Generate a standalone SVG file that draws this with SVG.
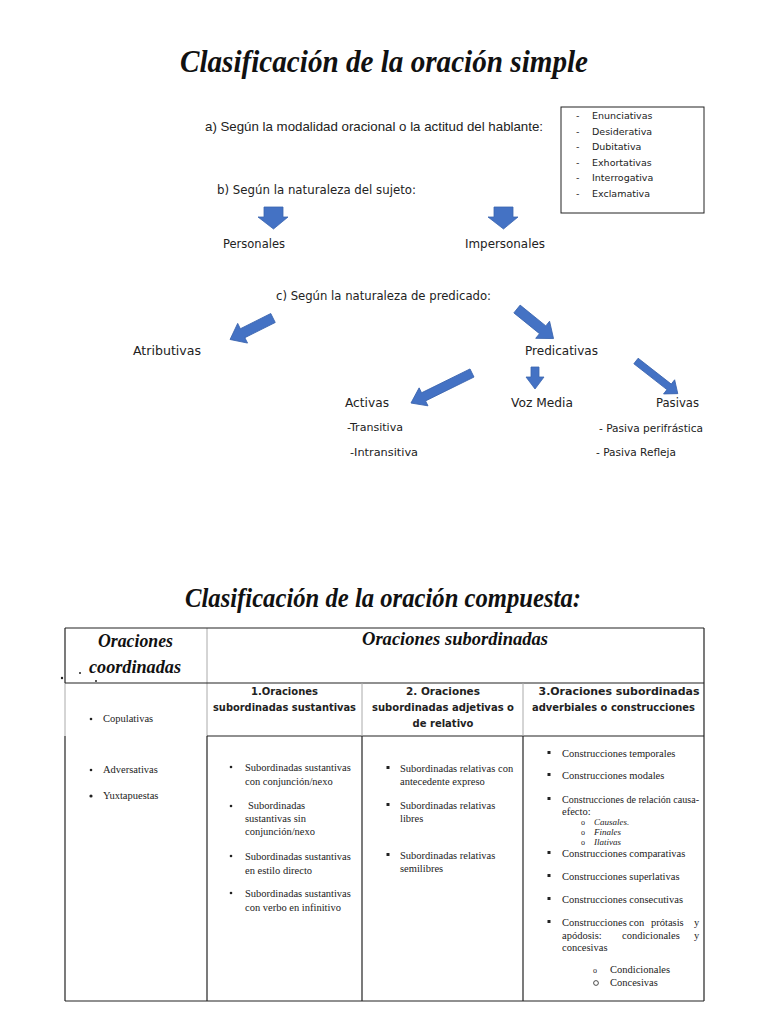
<svg xmlns="http://www.w3.org/2000/svg" width="768" height="1024" viewBox="0 0 768 1024">
<defs>
<style>
.script{font-family:"Liberation Serif","DejaVu Serif",serif;font-weight:bold;font-style:italic;fill:#111}
.sans{font-family:"DejaVu Sans","Liberation Sans",sans-serif;fill:#222;font-size:13px}
.sans2{font-family:"Liberation Sans","Arial",sans-serif;fill:#222;font-size:13px}
.sm{font-size:11px}
.bx{font-family:"DejaVu Sans","Liberation Sans",sans-serif;fill:#222;font-size:9.5px}
.hd{font-family:"DejaVu Sans","Liberation Sans",sans-serif;font-weight:bold;fill:#222;font-size:11px}
.tm{font-family:"Liberation Serif","Times New Roman",serif;fill:#222;font-size:10.5px}
.it{font-style:italic}
.arrow{fill:#4472C4;stroke:#3A64AE;stroke-width:0.8}
.ln{stroke:#222;stroke-width:1.2;fill:none}
.lg{stroke:#aaa;stroke-width:1;fill:none}
</style>
</defs>
<rect width="768" height="1024" fill="#fff"/>

<g id="title-simple">
<text class="script" x="180" y="72" font-size="32" textLength="408" lengthAdjust="spacingAndGlyphs">Clasificación de la oración simple</text>
</g>

<g id="node-a">
<text class="sans2" x="205" y="131" textLength="338" lengthAdjust="spacingAndGlyphs">a) Según la modalidad oracional o la actitud del hablante:</text>
</g>

<g id="node-modalidades">
<rect x="561" y="107" width="143" height="106" fill="#fff" stroke="#222" stroke-width="1"/>
<text class="bx" y="119"><tspan x="576">-</tspan><tspan x="592">Enunciativas</tspan></text>
<text class="bx" y="134.5"><tspan x="576">-</tspan><tspan x="592">Desiderativa</tspan></text>
<text class="bx" y="150"><tspan x="576">-</tspan><tspan x="592">Dubitativa</tspan></text>
<text class="bx" y="165.5"><tspan x="576">-</tspan><tspan x="592">Exhortativas</tspan></text>
<text class="bx" y="181"><tspan x="576">-</tspan><tspan x="592">Interrogativa</tspan></text>
<text class="bx" y="196.5"><tspan x="576">-</tspan><tspan x="592">Exclamativa</tspan></text>
</g>

<g id="node-b">
<text class="sans" x="217" y="194" textLength="199" lengthAdjust="spacingAndGlyphs">b) Según la naturaleza del sujeto:</text>
</g>
<g id="node-personales">
<text class="sans" x="223" y="248" textLength="62" lengthAdjust="spacingAndGlyphs">Personales</text>
</g>
<g id="node-impersonales">
<text class="sans" x="465" y="248" textLength="80" lengthAdjust="spacingAndGlyphs">Impersonales</text>
</g>

<g id="node-c">
<text class="sans" x="276" y="300" textLength="215" lengthAdjust="spacingAndGlyphs">c) Según la naturaleza de predicado:</text>
</g>
<g id="node-atributivas">
<text class="sans" x="133" y="355" textLength="68" lengthAdjust="spacingAndGlyphs">Atributivas</text>
</g>
<g id="node-predicativas">
<text class="sans" x="525" y="355" textLength="73" lengthAdjust="spacingAndGlyphs">Predicativas</text>
</g>
<g id="node-activas">
<text class="sans" x="345" y="407" textLength="44" lengthAdjust="spacingAndGlyphs">Activas</text>
<text class="sans sm" x="347" y="431" textLength="56" lengthAdjust="spacingAndGlyphs">-Transitiva</text>
<text class="sans sm" x="350" y="456" textLength="68" lengthAdjust="spacingAndGlyphs">-Intransitiva</text>
</g>
<g id="node-vozmedia">
<text class="sans" x="511" y="407" textLength="62" lengthAdjust="spacingAndGlyphs">Voz Media</text>
</g>
<g id="node-pasivas">
<text class="sans" x="656" y="407" textLength="43" lengthAdjust="spacingAndGlyphs">Pasivas</text>
<text class="sans sm" x="599" y="432" textLength="104" lengthAdjust="spacingAndGlyphs">- Pasiva perifrástica</text>
<text class="sans sm" x="596" y="456" textLength="80" lengthAdjust="spacingAndGlyphs">- Pasiva Refleja</text>
</g>

<g id="connectors">
<path class="arrow" d="M264,207 H283 V217 H288 L273.5,229 L258,217 H264 Z"/>
<path class="arrow" d="M494,207 H513 V217 H518 L503.5,229 L488,217 H494 Z"/>
<path class="arrow" d="M531,367 H539 V377 H544 L535,389 L526,377 H531 Z"/>
<path class="arrow" transform="translate(273,318) rotate(153.4)" d="M0,-5 H34 V-11 L48,0 L34,11 V5 H0 Z"/>
<path class="arrow" transform="translate(517,309) rotate(39)" d="M0,-5 H33 V-11 L47,0 L33,11 V5 H0 Z"/>
<path class="arrow" transform="translate(472,373) rotate(153.8)" d="M0,-4.5 H54 V-10 L68,0 L54,10 V4.5 H0 Z"/>
<path class="arrow" transform="translate(636,361) rotate(38)" d="M0,-3.5 H42 V-9 L53,0 L42,9 V3.5 H0 Z"/>
</g>

<g id="title-compuesta">
<text class="script" x="185" y="607" font-size="28" textLength="396" lengthAdjust="spacingAndGlyphs">Clasificación de la oración compuesta:</text>
</g>

<g id="table">
<line class="lg" x1="207" y1="628" x2="207" y2="736"/>
<line class="lg" x1="65" y1="683" x2="65" y2="736"/>
<line class="ln" x1="65" y1="628" x2="704" y2="628"/>
<line class="ln" x1="65" y1="628" x2="65" y2="683"/>
<line class="ln" x1="65" y1="736" x2="65" y2="1001"/>
<line class="ln" x1="704" y1="628" x2="704" y2="1001"/>
<line class="ln" x1="65" y1="683" x2="704" y2="683"/>
<line class="ln" x1="207" y1="736" x2="704" y2="736"/>
<line class="ln" x1="207" y1="736" x2="207" y2="1001"/>
<line class="lg" x1="362" y1="683" x2="362" y2="736"/>
<line class="lg" x1="523" y1="683" x2="523" y2="736"/>
<line class="ln" x1="362" y1="736" x2="362" y2="1001"/>
<line class="ln" x1="523" y1="736" x2="523" y2="1001"/>
<line class="ln" x1="65" y1="1001" x2="704" y2="1001"/>
</g>

<g id="cell-coordinadas">
<text class="script" x="98" y="647" font-size="19" textLength="75" lengthAdjust="spacingAndGlyphs">Oraciones</text>
<text class="script" x="89" y="673" font-size="19" textLength="92" lengthAdjust="spacingAndGlyphs">coordinadas</text>
<circle cx="62" cy="678" r="1.2" fill="#222"/>
<circle cx="80" cy="673" r="1" fill="#222"/>
<circle cx="96" cy="681" r="1" fill="#222"/>
<g class="tm">
<circle cx="91" cy="719" r="1.3" fill="#222"/><text x="103" y="722">Copulativas</text>
<circle cx="91" cy="770" r="1.3" fill="#222"/><text x="103" y="773">Adversativas</text>
<circle cx="91" cy="796" r="1.6" fill="#222"/><text x="103" y="799">Yuxtapuestas</text>
</g>
</g>

<g id="cell-subordinadas">
<text class="script" x="362" y="645" font-size="19" textLength="186" lengthAdjust="spacingAndGlyphs">Oraciones subordinadas</text>
</g>

<g id="cell-sustantivas">
<text class="hd" x="284.5" y="695" text-anchor="middle" textLength="67" lengthAdjust="spacingAndGlyphs">1.Oraciones</text>
<text class="hd" x="284.5" y="711" text-anchor="middle" textLength="143" lengthAdjust="spacingAndGlyphs">subordinadas sustantivas</text>
<g class="tm">
<circle cx="231" cy="767" r="1.3" fill="#222"/>
<text x="245" y="771">Subordinadas sustantivas</text>
<text x="245" y="785">con conjunción/nexo</text>
<circle cx="231" cy="806" r="1.3" fill="#222"/>
<text x="248" y="809">Subordinadas</text>
<text x="245" y="822">sustantivas sin</text>
<text x="245" y="835">conjunción/nexo</text>
<circle cx="231" cy="856" r="1.3" fill="#222"/>
<text x="245" y="860">Subordinadas sustantivas</text>
<text x="245" y="874">en estilo directo</text>
<circle cx="231" cy="893" r="1.3" fill="#222"/>
<text x="245" y="897">Subordinadas sustantivas</text>
<text x="245" y="911">con verbo en infinitivo</text>
</g>
</g>

<g id="cell-adjetivas">
<text class="hd" x="443" y="695" text-anchor="middle" textLength="74" lengthAdjust="spacingAndGlyphs">2. Oraciones</text>
<text class="hd" x="443" y="711" text-anchor="middle" textLength="142" lengthAdjust="spacingAndGlyphs">subordinadas adjetivas o</text>
<text class="hd" x="443" y="727" text-anchor="middle" textLength="61" lengthAdjust="spacingAndGlyphs">de relativo</text>
<g class="tm">
<rect x="386.5" y="766" width="3" height="3" fill="#222"/>
<text x="400" y="772">Subordinadas relativas con</text>
<text x="400" y="785">antecedente expreso</text>
<rect x="386.5" y="803" width="3" height="3" fill="#222"/>
<text x="400" y="809">Subordinadas relativas</text>
<text x="400" y="822">libres</text>
<rect x="386.5" y="853" width="3" height="3" fill="#222"/>
<text x="400" y="859">Subordinadas relativas</text>
<text x="400" y="872">semilibres</text>
</g>
</g>

<g id="cell-adverbiales">
<text class="hd" x="619" y="695" text-anchor="middle" textLength="161" lengthAdjust="spacingAndGlyphs">3.Oraciones subordinadas</text>
<text class="hd" x="613.5" y="711" text-anchor="middle" textLength="163" lengthAdjust="spacingAndGlyphs">adverbiales o construcciones</text>
<g class="tm" font-size="10">
<rect x="547.5" y="751" width="3" height="3" fill="#222"/>
<text x="562" y="757">Construcciones temporales</text>
<rect x="547.5" y="773" width="3" height="3" fill="#222"/>
<text x="562" y="779">Construcciones modales</text>
<rect x="547.5" y="797" width="3" height="3" fill="#222"/>
<text x="562" y="803" textLength="137" lengthAdjust="spacingAndGlyphs">Construcciones de relación causa-</text>
<text x="562" y="815">efecto:</text>
<text x="581" y="825" font-size="8">o</text><text class="it" x="594" y="825" font-size="9">Causales.</text>
<text x="581" y="835" font-size="8">o</text><text class="it" x="594" y="835" font-size="9">Finales</text>
<text x="581" y="845" font-size="8">o</text><text class="it" x="594" y="845" font-size="9">Ilativas</text>
<rect x="547.5" y="851" width="3" height="3" fill="#222"/>
<text x="562" y="857">Construcciones comparativas</text>
<rect x="547.5" y="874" width="3" height="3" fill="#222"/>
<text x="562" y="880">Construcciones superlativas</text>
<rect x="547.5" y="897" width="3" height="3" fill="#222"/>
<text x="562" y="903">Construcciones consecutivas</text>
<rect x="547.5" y="920" width="3" height="3" fill="#222"/>
<text x="562" y="926">Construcciones</text><text x="629" y="926">con</text><text x="651" y="926">prótasis</text><text x="694" y="926">y</text>
<text x="562" y="939">apódosis:</text><text x="622" y="939">condicionales</text><text x="694" y="939">y</text>
<text x="562" y="951">concesivas</text>
<text x="593" y="973" font-size="8">o</text><text x="610" y="973">Condicionales</text>
<circle cx="596" cy="983" r="2.4" fill="none" stroke="#222" stroke-width="0.8"/><text x="610" y="986">Concesivas</text>
</g>
</g>
</svg>
